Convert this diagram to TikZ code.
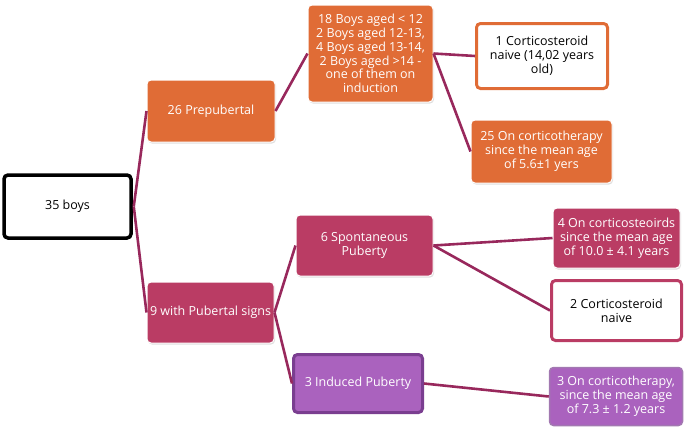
\documentclass[tikz,border=0pt]{standalone}
\usepackage{fontspec}
\setmainfont{Open Sans}
\usepackage{xcolor}
\usepackage{tikz}
\usetikzlibrary{positioning, arrows.meta, shadows}
\definecolor{BoxOrange}{RGB}{224,108,54}
\definecolor{BoxRose}{RGB}{186,60,100}
\definecolor{BoxViolet}{RGB}{170,98,190}
\definecolor{EdgeViolet}{RGB}{122,62,144}
\definecolor{LinkMaroon}{RGB}{152,40,92}
\tikzset{
  tbox/.style={rounded corners=4pt, align=center, inner sep=1pt,
    font=\fontsize{12.5}{13.8}\selectfont},
  rootbox/.style={tbox, draw=black, line width=3.5pt, fill=white, text=black},
  orbox/.style={tbox, draw=white, line width=1pt, fill=BoxOrange, text=white,
    drop shadow={shadow xshift=1pt, shadow yshift=-1.5pt, opacity=0.25}},
  orline/.style={tbox, draw=BoxOrange, line width=3pt, fill=white, text=black},
  rsbox/.style={tbox, draw=white, line width=1pt, fill=BoxRose, text=white,
    drop shadow={shadow xshift=1pt, shadow yshift=-1.5pt, opacity=0.25}},
  rsline/.style={tbox, draw=BoxRose, line width=3pt, fill=white, text=black},
  vibox/.style={tbox, draw=EdgeViolet, line width=3pt, fill=BoxViolet, text=white},
  vilight/.style={tbox, draw=EdgeViolet!70, line width=1.5pt, fill=BoxViolet, text=white},
  link/.style={LinkMaroon, line width=2.6pt},
}

\begin{document}
\begin{tikzpicture}[x=1pt, y=-1pt]
  \useasboundingbox (0,0) rectangle (685,437);
  % level 0
  \node[rootbox, minimum width=127pt, minimum height=63pt] (boys) at (67.5,206.5) {35 boys};
  % level 1
  \node[orbox, minimum width=128pt, minimum height=62pt] (prep) at (211,111) {26 Prepubertal};
  \node[rsbox, minimum width=127pt, minimum height=61pt] (pub) at (210.5,312.5) {9 with Pubertal signs};
  % level 2
  \node[orbox, minimum width=125pt, minimum height=97pt] (ages) at (370.5,53.5)
    {18 Boys aged < 12\\2 Boys aged 12-13,\\4 Boys aged 13-14,\\2 Boys aged >14 -\\one of them on\\induction};
  \node[rsbox, minimum width=137pt, minimum height=61pt] (spont) at (364.5,245.5) {6 Spontaneous\\Puberty};
  \node[vibox, minimum width=129pt, minimum height=58pt] (induced) at (358,383.5) {3 Induced Puberty};
  % level 3
  \node[orline, minimum width=131pt, minimum height=65pt] (naiveA) at (542,56)
    {1 Corticosteroid\\naive (14,02 years\\old)};
  \node[orbox, minimum width=141pt, minimum height=63pt] (cortA) at (541.5,151.5)
    {25 On corticotherapy\\since the mean age\\of 5.6±1 yers};
  \node[rsbox, minimum width=127pt, minimum height=60pt] (cortB) at (616.5,238)
    {4 On corticosteoirds\\since the mean age\\of 10.0 ± 4.1 years};
  \node[rsline, minimum width=130pt, minimum height=60pt] (naiveB) at (616.5,310.5)
    {2 Corticosteroid\\naive};
  \node[vilight, minimum width=133pt, minimum height=58pt] (cortC) at (616,396.5)
    {3 On corticotherapy,\\since the mean age\\of 7.3 ± 1.2 years};
  % links
  \draw[link] ([xshift=1pt]boys.east) -- (prep.west);
  \draw[link] ([xshift=1pt]boys.east) -- (pub.west);
  \draw[link] (prep.east) -- (ages.west);
  \draw[link] (ages.east) -- (naiveA.west);
  \draw[link] (ages.east) -- (cortA.west);
  \draw[link] (pub.east) -- (spont.west);
  \draw[link] (pub.east) -- (induced.west);
  \draw[link] (spont.east) -- (cortB.west);
  \draw[link] (spont.east) -- (naiveB.west);
  \draw[link] (induced.east) -- (cortC.west);
\end{tikzpicture}
\end{document}
